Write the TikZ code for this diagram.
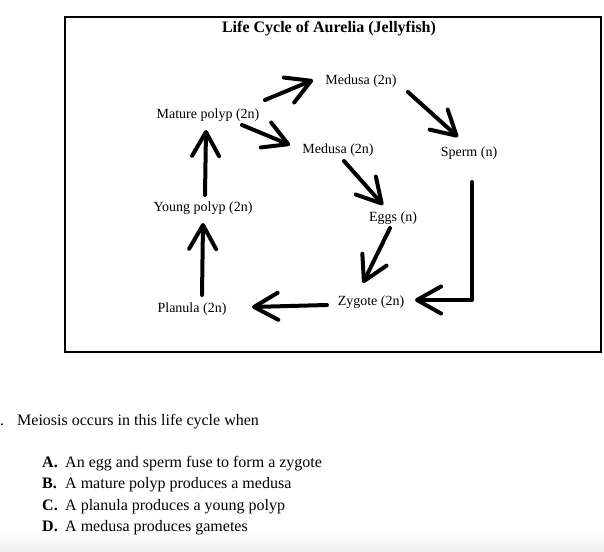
\documentclass[tikz,border=0pt]{standalone}
\usepackage{fontspec}
\setmainfont{Liberation Serif}
\usetikzlibrary{arrows.meta,calc}
\begin{document}
\begin{tikzpicture}[x=1pt,y=-1pt,
  lbl/.style={font=\fontsize{14}{16}\selectfont, inner sep=0pt},
  qtxt/.style={font=\fontsize{16}{19}\selectfont, inner sep=0pt, anchor=base west},
  arr/.style={line width=4pt, line cap=round, line join=round,
    -{Straight Barb[length=24pt,width=27pt,round]}}]
\useasboundingbox (0,0) rectangle (604,551);
\shade[top color=white, bottom color=gray!12] (0,530) rectangle (604,551);
\draw[line width=1.2pt] (65,17) rectangle (601,352);

\node[lbl, font=\fontsize{16}{19}\selectfont\bfseries] (title) at (329,29) {Life Cycle of Aurelia (Jellyfish)};
\node[lbl] (med1) at (361,81) {Medusa (2n)};
\node[lbl] (mp) at (208,115) {Mature polyp (2n)};
\node[lbl] (med2) at (338,150) {Medusa (2n)};
\node[lbl] (sp) at (469,153) {Sperm (n)};
\node[lbl] (yp) at (203,208) {Young polyp (2n)};
\node[lbl] (eg) at (393,218) {Eggs (n)};
\node[lbl] (pl) at (192,309) {Planula (2n)};
\node[lbl] (zy) at (371,302) {Zygote (2n)};

\draw[arr] ([shift={(57,-15)}]mp.center) -- ([shift={(-48,-1)}]med1.center);
\draw[arr] ([shift={(47,11)}]med1.center) -- ([shift={(-11,-16)}]sp.center);
\draw[arr] ([shift={(2,-13)}]yp.center) -- ([shift={(-2,15)}]mp.center);
\draw[arr] ([shift={(10,-14)}]pl.center) -- ([shift={(0,15)}]yp.center);
\draw[arr] ([shift={(-44,3)}]zy.center) -- ([shift={(60,-2)}]pl.center);
\draw[arr] ([shift={(34,10)}]mp.center) -- ([shift={(-48,-5)}]med2.center);
\draw[arr] ([shift={(6,11)}]med2.center) -- ([shift={(-10,-13)}]eg.center);
\draw[arr] ([shift={(-3,10)}]eg.center) -- ([shift={(-8,-19)}]zy.center);
\draw[arr] ([shift={(3,29)}]sp.center) |- ([shift={(44,-2)}]zy.center);

\node[qtxt] (dot) at (0,425) {.};
\node[qtxt] (q) at (17,425) {Meiosis occurs in this life cycle when};
\node[qtxt, font=\fontsize{16}{19}\selectfont\bfseries] (la) at (42,467) {A.};
\node[qtxt] (ta) at (65,467) {An egg and sperm fuse to form a zygote};
\node[qtxt, font=\fontsize{16}{19}\selectfont\bfseries] (lb) at (42,488) {B.};
\node[qtxt] (tb) at (65,488) {A mature polyp produces a medusa};
\node[qtxt, font=\fontsize{16}{19}\selectfont\bfseries] (lc) at (42,510) {C.};
\node[qtxt] (tc) at (65,510) {A planula produces a young polyp};
\node[qtxt, font=\fontsize{16}{19}\selectfont\bfseries] (ld) at (42,531) {D.};
\node[qtxt] (td) at (65,531) {A medusa produces gametes};
\end{tikzpicture}
\end{document}
